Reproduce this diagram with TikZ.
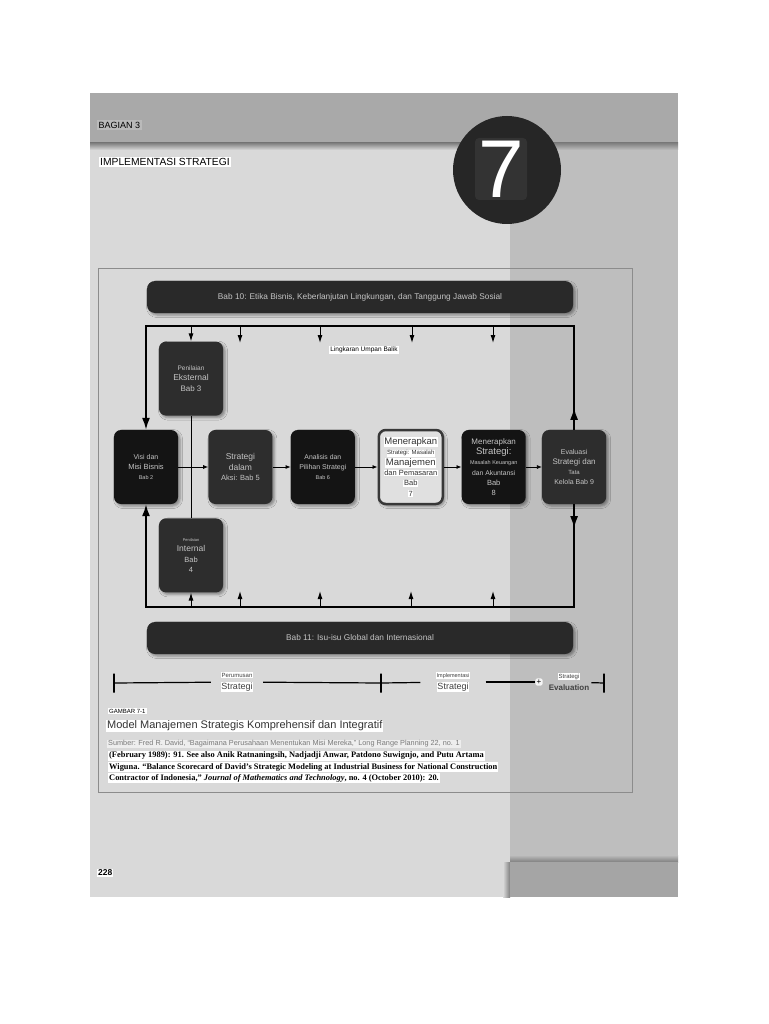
\documentclass[tikz,border=0pt]{standalone}
\usepackage{fontspec}
\setmainfont{Liberation Sans}
\newfontfamily\citefont{Liberation Serif}
\usetikzlibrary{arrows.meta,positioning,shadows.blur}

\definecolor{pagebg}{HTML}{D9D9D9}
\definecolor{sidebg}{HTML}{BEBEBE}
\definecolor{headbg}{HTML}{A9A9A9}
\definecolor{footbg}{HTML}{A5A5A5}
\definecolor{boxgray}{HTML}{2D2D2D}
\definecolor{boxblack}{HTML}{141414}
\definecolor{boxtext}{HTML}{C4C4C4}
\definecolor{srcgray}{HTML}{7A7A7A}

\newcommand\fsz[1]{\fontsize{#1}{10.3}\selectfont}
\newcommand\hlbox[1]{{\setlength\fboxsep{0.6pt}\colorbox{white}{#1}}}

\begin{document}
\begin{tikzpicture}[x=1pt,y=-1pt]
    % model layout
    \tikzset{stage/.style = {shape=rectangle, rounded corners=7pt, fill=boxgray,
        text=boxtext, align=center, inner sep=1pt, minimum width=64pt,
        minimum height=74pt, font=\fsz{7},
        blur shadow={shadow xshift=2pt, shadow yshift=-2pt, shadow blur radius=2.5pt}}}
    \tikzset{apply/.style = {fill=black!12, draw=black!78, line width=2.5pt, text=black!80}}
    \tikzset{bar/.style = {shape=rectangle, rounded corners=8pt, fill=black!84,
        text=boxtext, minimum width=426pt, minimum height=32pt, font=\fsz{8.3},
        blur shadow={shadow xshift=2pt, shadow yshift=-2pt, shadow blur radius=2.5pt}}}
    \tikzset{feed/.style = {{Latex[length=5pt,width=4pt]}-, line width=.8pt}}
    \tikzset{fbline/.style = {line width=1.8pt}}
    \tikzset{fbtip/.style = {fbline, -{Latex[length=12pt,width=8pt]}}}
    \tikzset{fbin/.style = {-{Latex[length=8pt,width=5pt]}, line width=1pt}}
    \tikzset{tag/.style = {fill=white, inner sep=1pt}}
    \tikzset{tickmark/.style = {draw, line width=1.2pt, minimum width=0pt,
        minimum height=19pt, inner sep=0pt}}
    \tikzset{phase/.style = {align=center, inner ysep=0pt, text=black!75}}

    \useasboundingbox (0,0) rectangle (768,1024);
    \fill[white] (0,0) rectangle (768,1024);

    % page
    \fill[pagebg] (90,93) rectangle (678,897);
    \fill[sidebg] (510,143) rectangle (678,862);
    \fill[headbg] (90,93) rectangle (678,143);
    \shade[top color=black!50, bottom color=pagebg] (90,143) rectangle (510,150);
    \shade[top color=black!50, bottom color=sidebg] (510,143) rectangle (678,150);
    \shade[top color=sidebg, bottom color=black!50] (510,855) rectangle (678,862);
    \shade[left color=pagebg, right color=black!50] (503,862) rectangle (510,897);
    \fill[footbg] (510,862) rectangle (678,897);

    \node[fill=black!27, inner sep=1.5pt, anchor=west, font=\fsz{9}] (part) at (97,125) {BAGIAN 3};
    \node[tag, anchor=west, font=\fsz{10.3}] (topic) at (99,162) {IMPLEMENTASI STRATEGI};

    \node[circle, fill=black!85, minimum size=108pt, inner sep=0pt] (chapter) at (507,170) {};
    \node[fill=black!80, rounded corners=4pt, minimum width=52pt, minimum height=62pt,
        inner sep=0pt, text=white, font=\fsz{82}] (chapnum) at (501,169) {7};

    % figure frame
    \draw[black!45, line width=1pt] (98,268) rectangle (632,792);

    \node[bar] (ethics) at (360,297) {Bab 10: Etika Bisnis, Keberlanjutan Lingkungan, dan Tanggung Jawab Sosial};
    \node[bar] (global) at (360,638) {Bab 11: Isu-isu Global dan Internasional};

    % stages
    \node[stage, fill=boxblack] (visi) at (146,467)
        {\fsz{7}Visi dan\\\fsz{7.5}Misi Bisnis\\\fsz{5.5}Bab 2};
    \node[stage] (ext) [above=14pt of visi, xshift=45pt]
        {\fsz{6.5}Penilaian\\\fsz{8.5}Eksternal\\\fsz{8}Bab 3};
    \node[stage] (int) [below=14pt of visi, xshift=45pt]
        {\fsz{4}Penilaian\\\fsz{8.5}Internal\\\fsz{7.5}Bab\\\fsz{7.5}4};
    \draw[line width=1pt] (ext) -- (int);

    \node[stage] (aksi) [right=30pt of visi]
        {\fsz{8.5}Strategi\\\fsz{8.5}dalam\\\fsz{7.5}Aksi: Bab 5}
        edge [feed] (visi);
    \node[stage, fill=boxblack] (pilih) [right=18pt of aksi]
        {\fsz{6.8}Analisis dan\\\fsz{7}Pilihan Strategi\\\fsz{5.5}Bab 6}
        edge [feed] (aksi);
    \node[stage, apply] (bab7) [right=22.5pt of pilih]
        {\hlbox{\fsz{9.5}Menerapkan}\\\hlbox{\fsz{6}Strategi: Masalah}\\\hlbox{\fsz{9.5}Manajemen}\\\hlbox{\fsz{7.5}dan Pemasaran}\\\hlbox{\fsz{7.5}Bab}\\\hlbox{\fsz{7.5}7}}
        edge [feed] (pilih);
    \node[stage, fill=boxblack] (bab8) [right=17.5pt of bab7]
        {\fsz{8}Menerapkan\\\fsz{9.5}Strategi:\\\fsz{5.5}Masalah Keuangan\\\fsz{6.8}dan Akuntansi\\\fsz{7.5}Bab\\\fsz{7.5}8}
        edge [feed] (bab7);
    \node[stage] (eval) [right=16pt of bab8]
        {\fsz{7}Evaluasi\\\fsz{8}Strategi dan\\\fsz{6}Tata\\\fsz{7}Kelola Bab 9}
        edge [feed] (bab8);

    % feedback loop
    \coordinate (tl) at (146,326);
    \coordinate (bl) at (146,607);
    \coordinate (tr) at (eval.north |- tl);
    \coordinate (br) at (eval.south |- bl);
    \coordinate (rtip) at ([yshift=22pt]eval.north);
    \coordinate (rbot) at ([yshift=-24pt]eval.south);
    \draw[fbtip] (eval.north) -- (tr) -- (tl) -- (visi.north);
    \draw[fbtip] (eval.north) -- (rtip);
    \draw[fbtip] (eval.south) -- (br) -- (bl) -- (visi.south);
    \draw[fbtip] (eval.south) -- (rbot);

    \draw[fbin] (ext.north |- tl) -- (ext.north);
    \draw[fbin] (int.south |- bl) -- (int.south);
    \foreach \x [count=\i] in {240,320,412,493} {
        \coordinate (in\i) at (\x,326);
        \coordinate (inend\i) at (\x,343);
        \draw[fbin] (in\i) -- (inend\i);
    }
    \foreach \x [count=\i] in {240,320,411,493} {
        \coordinate (up\i) at (\x,607);
        \coordinate (upend\i) at (\x,591);
        \draw[fbin] (up\i) -- (upend\i);
    }
    \node[tag, font=\fsz{6.5}] (umpan) at (364,350) {Lingkaran Umpan Balik};

    % phases
    \node[tickmark] (t0) at (114,683) {};
    \node[tickmark] (t1) at (381,683) {};
    \node[tickmark] (t2) at (604,683) {};
    \node[phase, minimum width=52pt] (form) at (237,682)
        {\hlbox{\fsz{6}Perumusan}\\\hlbox{\fsz{9}Strategi}};
    \node[phase, minimum width=65pt] (impl) at (453,682)
        {\hlbox{\fsz{5.5}Implementasi}\\\hlbox{\fsz{9}Strategi}};
    \node[fill=white!75!pagebg, rounded corners=1.5pt, inner sep=1.2pt, font=\fsz{8}] (plus) at (539,682) {+};
    \node[phase, inner xsep=2pt] (evalnote) at (569,682)
        {\hlbox{\fsz{6}Strategi}\\{\fsz{8}\bfseries Evaluation}};
    \draw[line width=1.2pt] (t0) -- (form);
    \draw[line width=1.2pt] (form) -- (t1);
    \draw[line width=1.2pt] (t1) -- (impl);
    \draw[line width=1.2pt] (impl) -- (plus);
    \draw[line width=1.2pt] (evalnote) -- (t2);

    % caption
    \node[tag, anchor=west, font=\fsz{6}] (fignum) at (108,711) {GAMBAR 7-1};
    \node[tag, anchor=west, font=\fsz{11}, text=black!80] (figtitle) at (106,726)
        {Model Manajemen Strategis Komprehensif dan Integratif};
    \node[fill=white!55!pagebg, inner sep=1pt, anchor=west, font=\fsz{7.3}, text=srcgray] (src) at (107,744)
        {Sumber: Fred R. David, “Bagaimana Perusahaan Menentukan Misi Mereka,” Long Range Planning 22, no. 1};
    \node[tag, anchor=west, font=\citefont\bfseries\fsz{8.4}] (cite1) at (108,756)
        {(February 1989): 91. See also Anik Ratnaningsih, Nadjadji Anwar, Patdono Suwignjo, and Putu Artama};
    \node[tag, anchor=west, font=\citefont\bfseries\fsz{8.4}] (cite2) at (108,767)
        {Wiguna. “Balance Scorecard of David’s Strategic Modeling at Industrial Business for National Construction};
    \node[tag, anchor=west, font=\citefont\bfseries\fsz{8.4}] (cite3) at (108,778)
        {Contractor of Indonesia,” \textit{Journal of Mathematics and Technology}, no. 4 (October 2010): 20.};

    \node[tag, anchor=west, font=\fsz{8.5}\bfseries] (pageno) at (97,873) {228};
\end{tikzpicture}
\end{document}
